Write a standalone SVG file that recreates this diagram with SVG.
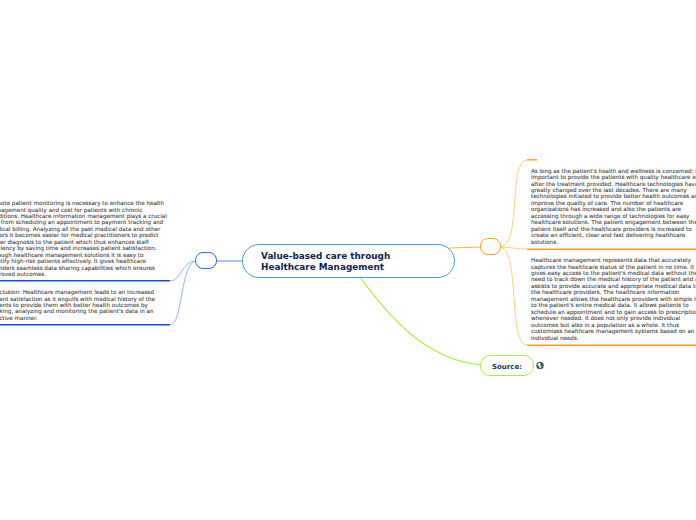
<svg xmlns="http://www.w3.org/2000/svg" width="696" height="520" viewBox="0 0 696 520">
<style>
text{font-family:"DejaVu Sans",Verdana,sans-serif}
.b{font-size:5.6px;fill:#3c3c3c;stroke:#3c3c3c;stroke-width:0.08px}
.t{font-size:8.9px;font-weight:bold;fill:#0f2350}
.s{font-size:7px;font-weight:bold;fill:#12403a}
.c{fill:none}
</style>
<rect width="696" height="520" fill="#fff"/>
<g id="connectors" class="c">
<path d="M243 261H216" stroke="#7f9fff" stroke-width="1.3"/>
<path d="M196 261C182 261 181 281 170 281" stroke="#7f9fff" stroke-width="0.8"/>
<path d="M196 261C180 263 183 325 170 325" stroke="#7f9fff" stroke-width="0.8"/>
<path d="M449 248L481 247" stroke="#ffb040" stroke-width="1"/>
<path d="M501 247C522 243 508 160 527 160" stroke="#ffc670" stroke-width="0.9"/>
<path d="M501 247C510 247 515 249 527 249" stroke="#ffc670" stroke-width="0.9"/>
<path d="M501 247C520 252 508 345 527 345" stroke="#ffc670" stroke-width="0.9"/>
<path d="M360 277C395 325 430 360 481 365" stroke="#a0f028" stroke-width="1.2"/>
</g>
<g id="root">
<rect x="242.500" y="244.500" width="212" height="33" rx="16.500" fill="#fff" stroke="#4a9bd4" stroke-width="1"/>
<text class="t"><tspan x="261" y="259">Value-based care through</tspan><tspan x="261" y="270">Healthcare Management</tspan></text>
</g>
<g id="left-branch">
<rect x="195.500" y="252.500" width="21" height="16" rx="7.500" fill="#fff" stroke="#2f6be8" stroke-width="1"/>
</g>
<g id="left-note-1">
<text class="b"><tspan x="-11.500" y="205">Remote patient monitoring is necessary to enhance the health</tspan><tspan x="-11.500" y="211.500">management quality and cost for patients with chronic</tspan><tspan x="-11.500" y="218">conditions. Healthcare information management plays a crucial</tspan><tspan x="-11.500" y="224.400">role from scheduling an appointment to payment tracking and</tspan><tspan x="-11.500" y="230.900">medical billing. Analyzing all the past medical data and other</tspan><tspan x="-11.500" y="237.400">factors it becomes easier for medical practitioners to predict</tspan><tspan x="-11.500" y="243.800">better diagnosis to the patient which thus enhances staff</tspan><tspan x="-11.500" y="250.300">efficiency by saving time and increases patient satisfaction.</tspan><tspan x="-11.500" y="256.800">Through healthcare management solutions it is easy to</tspan><tspan x="-11.500" y="263.200">identify high-risk patients effectively. It gives healthcare</tspan><tspan x="-11.500" y="269.700">providers seamless data sharing capabilities which ensures</tspan><tspan x="-11.500" y="276.200">improved outcomes.</tspan></text>
<path d="M0 280.800H170" stroke="#0f4be8" stroke-width="1.4"/>
</g>
<g id="left-note-2">
<text class="b"><tspan x="-11.500" y="294">Conclusion: Healthcare management leads to an increased</tspan><tspan x="-11.500" y="300.500">patient satisfaction as it engulfs with medical history of the</tspan><tspan x="-11.500" y="307">patients to provide them with better health outcomes by</tspan><tspan x="-11.500" y="313.400">tracking, analyzing and monitoring the patient's data in an</tspan><tspan x="-11.500" y="319.900">effective manner.</tspan></text>
<path d="M0 324.800H170" stroke="#0f4be8" stroke-width="1.4"/>
</g>
<g id="right-branch">
<rect x="480.500" y="238.500" width="20" height="16" rx="7.500" fill="#fff" stroke="#ff9f1a" stroke-width="1"/>
</g>
<g id="right-stub">
<path d="M527 159.800H537" stroke="#ff9f1a" stroke-width="1.4"/>
</g>
<g id="right-note-1">
<text class="b"><tspan x="531" y="172.500">As long as the patient's health and wellness is concerned; it is</tspan><tspan x="531" y="179">important to provide the patients with quality healthcare even</tspan><tspan x="531" y="185.500">after the treatment provided. Healthcare technologies have</tspan><tspan x="531" y="192">greatly changed over the last decades. There are many</tspan><tspan x="531" y="198.400">technologies initiated to provide better health outcomes and</tspan><tspan x="531" y="204.900">improve the quality of care. The number of healthcare</tspan><tspan x="531" y="211.400">organizations has increased and also the patients are</tspan><tspan x="531" y="217.800">accessing through a wide range of technologies for easy</tspan><tspan x="531" y="224.300">healthcare solutions. The patient engagement between the</tspan><tspan x="531" y="230.800">patient itself and the healthcare providers is increased to</tspan><tspan x="531" y="237.200">create an efficient, clear and fast delivering healthcare</tspan><tspan x="531" y="243.700">solutions.</tspan></text>
<path d="M527 249.200H696" stroke="#ff9f1a" stroke-width="1.4"/>
</g>
<g id="right-note-2">
<text class="b"><tspan x="531" y="262">Healthcare management represents data that accurately</tspan><tspan x="531" y="268.500">captures the healthcare status of the patient in no time. It</tspan><tspan x="531" y="275">gives easy access to the patient's medical data without the</tspan><tspan x="531" y="281.400">need to track down the medical history of the patient and also</tspan><tspan x="531" y="287.900">assists to provide accurate and appropriate medical data to</tspan><tspan x="531" y="294.400">the healthcare providers. The healthcare information</tspan><tspan x="531" y="300.800">management allows the healthcare providers with simple login</tspan><tspan x="531" y="307.300">to the patient's entire medical data. It allows patients to</tspan><tspan x="531" y="313.800">schedule an appointment and to gain access to prescriptions</tspan><tspan x="531" y="320.200">whenever needed. It does not only provide individual</tspan><tspan x="531" y="326.700">outcomes but also in a population as a whole. It thus</tspan><tspan x="531" y="333.200">customizes healthcare management systems based on an</tspan><tspan x="531" y="339.600">individual needs.</tspan></text>
<path d="M527 345.200H696" stroke="#ff9f1a" stroke-width="1.4"/>
</g>
<g id="source">
<rect x="480.500" y="355.500" width="53" height="20" rx="9.500" fill="#fff" stroke="#a6f03c" stroke-width="1"/>
<text class="s" x="492" y="368.500">Source:</text>
<circle cx="540" cy="365.500" r="3.500" fill="#2f6f5a" stroke="#123" stroke-width="0.4"/>
<path d="M538 363.500L540.500 362.800L540 365L541.500 366.500L540 368.500L539 366L537.500 365Z" fill="#fff"/>
</g>
</svg>
